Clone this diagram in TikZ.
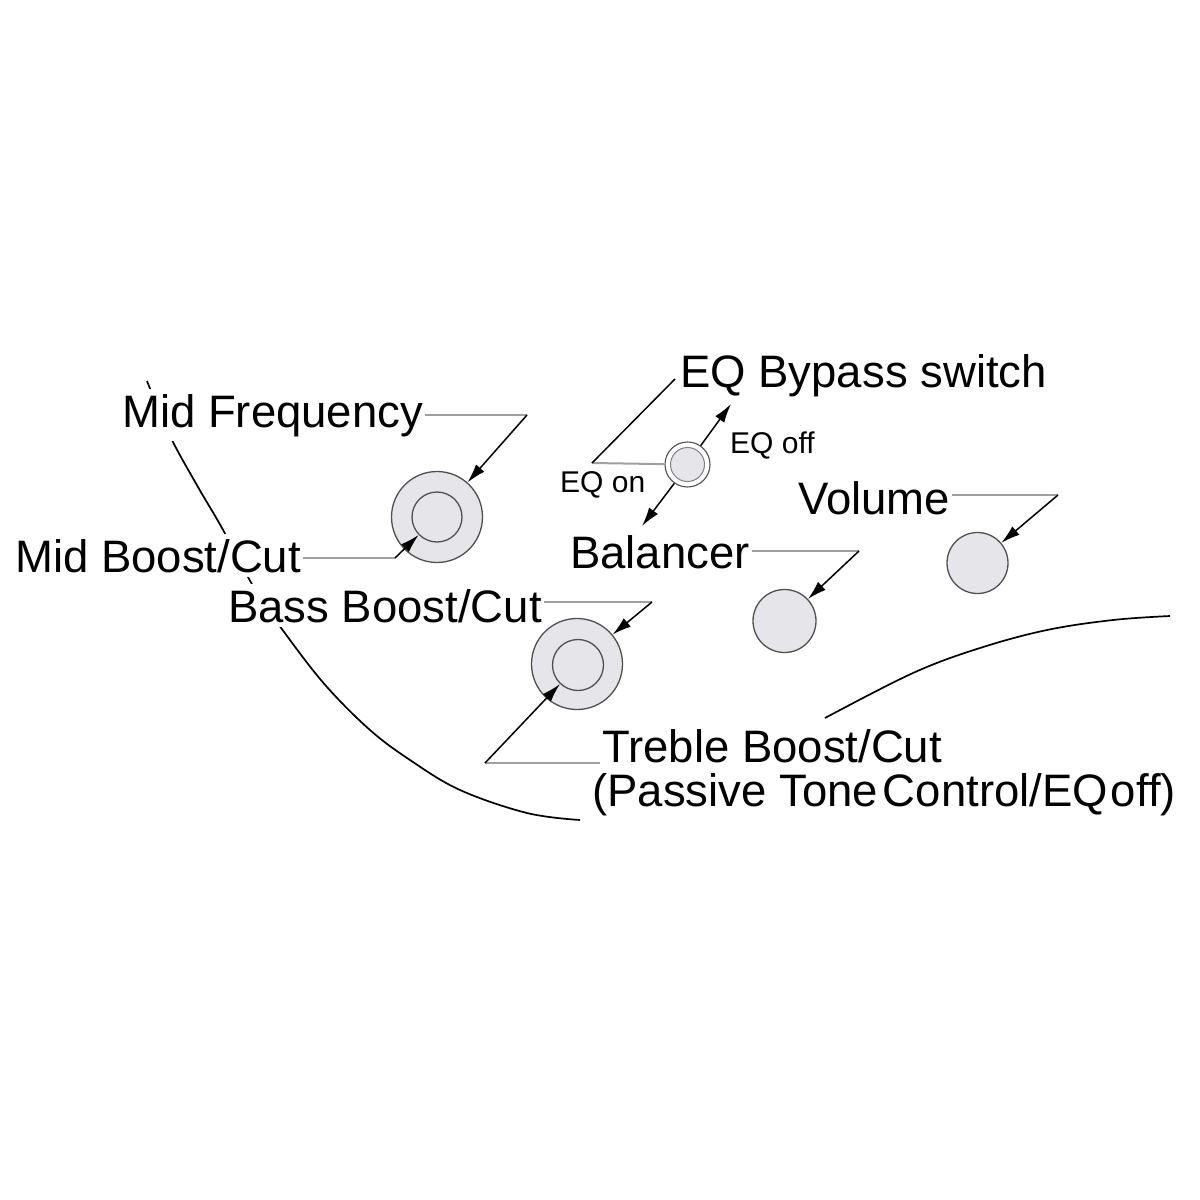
\documentclass[tikz,border=0pt]{standalone}
\usepackage{fontspec}
\setmainfont{Liberation Sans}
\usetikzlibrary{arrows.meta}
\definecolor{knobfill}{HTML}{E6E6EA}
\definecolor{leadgray}{HTML}{A0A0A0}
\definecolor{rim}{HTML}{505050}
\begin{document}
\begin{tikzpicture}[x=1pt,y=-1pt,
 lbl/.style={anchor=base west, font=\fontsize{45.5}{50}\selectfont, inner xsep=2pt, inner ysep=5pt, fill=white},
 smalllbl/.style={anchor=base west, font=\fontsize{30}{34}\selectfont, inner sep=1pt},
 knob/.style={circle, draw=rim, line width=1.3pt, fill=knobfill, inner sep=0pt},
 hl/.style={draw=leadgray, line width=2pt},
 dl/.style={draw=black, line width=1.5pt},
 ar/.style={dl, -{Latex[length=19pt,width=11pt]}},
 body/.style={line width=1.7pt, draw=black}]
\useasboundingbox (0,0) rectangle (1200,1200);
\fill[white] (0,0) rectangle (1200,1200);

% body outline
\draw[body] plot[smooth, tension=0.6] coordinates {(147,381) (170,436) (198,487) (222,528) (256,591) (290,640) (327,687) (370,730) (410,760) (460,790) (527,813) (580,820)};
\draw[body] plot[smooth, tension=0.6] coordinates {(825,718) (913,673) (980,648) (1047,630) (1113,620) (1170,616)};

% knobs
\node[knob, minimum size=91pt] (midO) at (437,517) {};
\node[knob, minimum size=50pt] (midI) at (437,517) {};
\node[knob, minimum size=91pt] (bassO) at (577,664) {};
\node[knob, minimum size=51pt] (bassI) at (578,665) {};
\node[knob, minimum size=63pt] (balK) at (784.5,621) {};
\node[knob, minimum size=61pt] (volK) at (977.5,563) {};
\node[circle, draw=rim, line width=1.1pt, fill=white, inner sep=0pt, minimum size=45pt] (swO) at (687.5,464.5) {};
\node[circle, draw=gray, line width=1pt, fill=knobfill, inner sep=0pt, minimum size=34pt] (swI) at (687.5,464.5) {};

% labels
\node[lbl] (mf) at (120,427) {Mid Frequency};
\node[lbl] (mb) at (13,572) {Mid Boost/Cut};
\node[lbl] (bb) at (226,622) {Bass Boost/Cut};
\node[lbl] (eqb) at (678,387) {EQ Bypass switch};
\node[lbl] (ba) at (568,568) {Balancer};
\node[lbl] (vo) at (796,514) {Volume};
\node[lbl] (tr) at (600,762) {Treble Boost/Cut};
\node[lbl] (tr2) at (590,806) {(Passive Tone\hspace{5pt}Control/EQ\hspace{3pt}off)};
\node[smalllbl] (eqon) at (559,492) {EQ on};
\node[smalllbl] (eqoff) at (729,453) {EQ off};

% leader corners
\coordinate (mfE) at (527,415);
\coordinate (mbE) at (395,558);
\coordinate (bbE) at (652,602);
\coordinate (trE) at (485,763);
\coordinate (baE) at (859,551);
\coordinate (voE) at (1058,495);
\coordinate (eqonC) at (592,463);
\coordinate (eqbC) at (675,379);
\coordinate (offT) at (731,404);
\coordinate (onT) at (642,526);

% leaders
\draw[hl] (mf.east |- mfE) -- (mfE);
\draw[ar] (mfE) -- (midO);
\draw[hl] (mb.east |- mbE) -- (mbE);
\draw[ar] (mbE) -- (midI);
\draw[hl] (bb.east |- bbE) -- (bbE);
\draw[ar] (bbE) -- (bassO);
\draw[hl] (tr.west |- trE) -- (trE);
\draw[ar] (trE) -- (bassI);
\draw[hl] (ba.east |- baE) -- (baE);
\draw[ar] (baE) -- (balK);
\draw[hl] (vo.east |- voE) -- (voE);
\draw[ar] (voE) -- (volK);
\draw[hl] (eqonC) -- (swO);
\draw[dl] (eqonC) -- (eqbC);
\draw[ar] (swO.55) -- (offT);
\draw[ar] (swO.235) -- (onT);
\end{tikzpicture}
\end{document}
